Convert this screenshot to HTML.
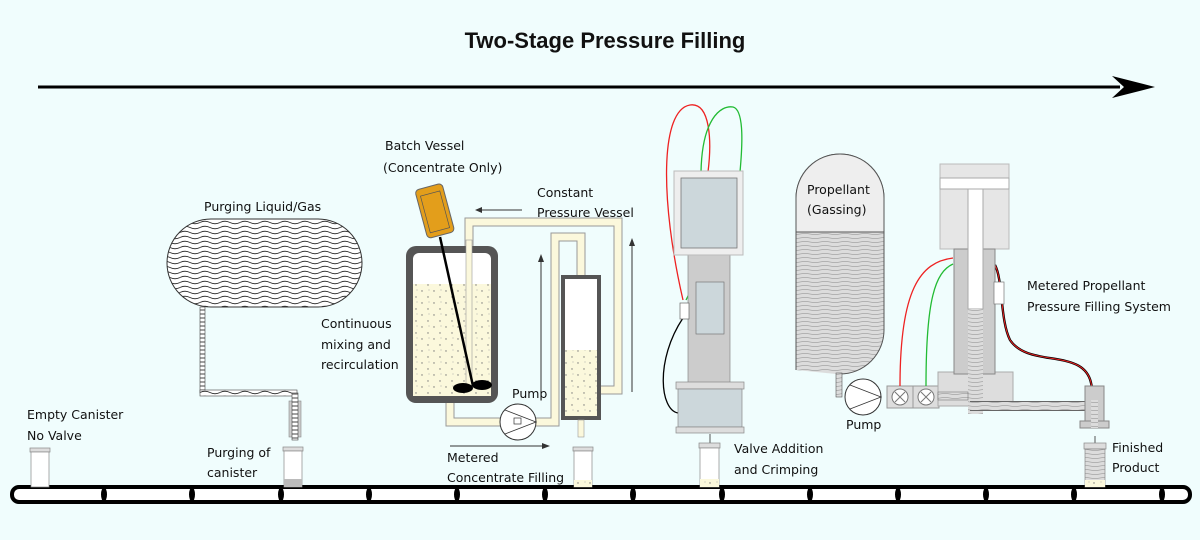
<!DOCTYPE html>
<html><head><style>
html,body{margin:0;padding:0;background:#f0fdfd;}
svg{display:block}
text{font-family:"DejaVu Sans","Liberation Sans",sans-serif;font-size:12.5px;fill:#111}
</style></head><body>
<svg width="1200" height="540" viewBox="0 0 1200 540" xmlns="http://www.w3.org/2000/svg">
<defs>
<pattern id="wave" width="20" height="5" patternUnits="userSpaceOnUse">
<rect width="20" height="5" fill="#fff"/>
<path d="M0 2.5 Q5 0 10 2.5 T20 2.5" fill="none" stroke="#333" stroke-width="0.9"/>
</pattern>
<pattern id="wave2" width="20" height="4" patternUnits="userSpaceOnUse">
<rect width="20" height="4" fill="#dcdcdc"/>
<path d="M0 2 Q5 0.8 10 2 T20 2" fill="none" stroke="#888" stroke-width="0.5"/>
</pattern>
<pattern id="dots" width="12" height="12" patternUnits="userSpaceOnUse">
<rect width="12" height="12" fill="#fbf8dc"/>
<circle cx="2" cy="3" r="0.7" fill="#777"/><circle cx="8" cy="9" r="0.7" fill="#777"/><circle cx="9" cy="2" r="0.5" fill="#999"/>
</pattern>
<pattern id="ladder" width="6" height="4" patternUnits="userSpaceOnUse">
<rect width="6" height="4" fill="#fff"/><line x1="0" y1="2" x2="6" y2="2" stroke="#444" stroke-width="1"/>
</pattern>
</defs>

<text x="605" y="48" text-anchor="middle" style="font-size:22px;font-weight:bold;font-family:'Liberation Sans',sans-serif">Two-Stage Pressure Filling</text>
<line x1="38" y1="87" x2="1120" y2="87" stroke="#000" stroke-width="3"/>
<polygon points="1155,87 1112,76 1124,87 1112,98" fill="#000"/>

<rect x="12" y="487" width="1178" height="15" rx="7" fill="#fff" stroke="#000" stroke-width="4"/>
<g fill="#000">
<ellipse cx="104" cy="494.5" rx="3" ry="7"/><ellipse cx="192" cy="494.5" rx="3" ry="7"/><ellipse cx="281" cy="494.5" rx="3" ry="7"/><ellipse cx="369" cy="494.5" rx="3" ry="7"/><ellipse cx="457" cy="494.5" rx="3" ry="7"/><ellipse cx="545" cy="494.5" rx="3" ry="7"/><ellipse cx="633" cy="494.5" rx="3" ry="7"/><ellipse cx="722" cy="494.5" rx="3" ry="7"/><ellipse cx="810" cy="494.5" rx="3" ry="7"/><ellipse cx="898" cy="494.5" rx="3" ry="7"/><ellipse cx="986" cy="494.5" rx="3" ry="7"/><ellipse cx="1074" cy="494.5" rx="3" ry="7"/><ellipse cx="1162" cy="494.5" rx="3" ry="7"/>
</g>

<text x="27" y="419">Empty Canister</text><text x="27" y="440">No Valve</text>
<rect x="30" y="448" width="20" height="4" fill="#ddd" stroke="#888" stroke-width="0.7"/>
<rect x="31" y="452" width="18" height="35" fill="#fff" stroke="#888" stroke-width="0.7"/>

<text x="204" y="211">Purging Liquid/Gas</text>
<rect x="167" y="219" width="195" height="88" rx="44" fill="url(#wave)" stroke="#333" stroke-width="1"/>
<rect x="200" y="307" width="5" height="86" fill="url(#ladder)" stroke="#444" stroke-width="0.6"/>
<rect x="200" y="390" width="97" height="6" fill="url(#wave)" stroke="#444" stroke-width="0.6"/>
<rect x="289" y="401" width="12" height="36" fill="#ccc" stroke="#888" stroke-width="0.6"/>
<rect x="292" y="393" width="6" height="47" fill="url(#ladder)" stroke="#444" stroke-width="0.6"/>
<text x="207" y="457">Purging of</text><text x="207" y="477">canister</text>
<rect x="283" y="447" width="20" height="4" fill="#ddd" stroke="#888" stroke-width="0.7"/>
<rect x="284" y="451" width="18" height="36" fill="#fff" stroke="#888" stroke-width="0.7"/>
<rect x="284" y="479" width="18" height="8" fill="#bbb"/>

<text x="385" y="150">Batch Vessel</text><text x="383" y="172">(Concentrate Only)</text>
<text x="537" y="197">Constant</text><text x="537" y="217">Pressure Vessel</text>
<line x1="522" y1="210" x2="478" y2="210" stroke="#333"/><polygon points="475,210 482,207 482,213" fill="#333"/>
<text x="321" y="328">Continuous</text><text x="321" y="349">mixing and</text><text x="321" y="369">recirculation</text>
<path d="M469 390 V222 H618 V390 H600" fill="none" stroke="#999" stroke-width="9"/>
<path d="M469 390 V222 H618 V390 H600" fill="none" stroke="#fbf8dc" stroke-width="7"/>
<path d="M450 395 V422 H505 M535 422 H555 V237 H581 V275" fill="none" stroke="#999" stroke-width="9"/>
<path d="M450 395 V422 H505 M535 422 H555 V237 H581 V275" fill="none" stroke="#fbf8dc" stroke-width="7"/>
<rect x="406" y="246" width="92" height="157" rx="10" fill="#555"/>
<rect x="413" y="253" width="78" height="143" rx="6" fill="#fff"/>
<rect x="413" y="284" width="78" height="112" fill="url(#dots)"/>
<rect x="466" y="240" width="6" height="150" fill="#fbf8dc" stroke="#999" stroke-width="0.6"/>
<line x1="440" y1="237" x2="473" y2="386" stroke="#000" stroke-width="2.5"/>
<ellipse cx="463" cy="388" rx="10" ry="5" fill="#000"/><ellipse cx="482" cy="385" rx="10" ry="5" fill="#000"/>
<g transform="rotate(-15 434 208)"><rect x="420" y="186" width="28" height="50" rx="4" fill="#e39e1b" stroke="#666"/><rect x="424" y="193" width="20" height="38" fill="none" stroke="#555" stroke-width="0.7"/></g>
<rect x="561" y="275" width="40" height="145" fill="#555"/>
<rect x="565" y="279" width="32" height="137" fill="#fff"/>
<rect x="565" y="350" width="32" height="66" fill="url(#dots)"/>
<rect x="578" y="420" width="6" height="17" fill="#fbf8dc" stroke="#999" stroke-width="0.6"/>
<line x1="541" y1="392" x2="541" y2="258" stroke="#333"/><polygon points="541,254 538,262 544,262" fill="#333"/>
<line x1="632" y1="392" x2="632" y2="242" stroke="#333"/><polygon points="632,238 629,246 635,246" fill="#333"/>
<circle cx="518" cy="422" r="18" fill="#fff" stroke="#333"/>
<path d="M505 410 L536 422 L505 434" fill="none" stroke="#333" stroke-width="0.8"/>
<rect x="514" y="418" width="7" height="6" fill="#fff" stroke="#333" stroke-width="0.7"/>
<text x="512" y="398">Pump</text>
<line x1="450" y1="446" x2="545" y2="446" stroke="#333"/><polygon points="550,446 542,443 542,449" fill="#333"/>
<text x="447" y="462">Metered</text><text x="447" y="482">Concentrate Filling</text>
<rect x="573" y="447" width="20" height="4" fill="#ddd" stroke="#888" stroke-width="0.7"/>
<rect x="574" y="451" width="18" height="36" fill="#fff" stroke="#888" stroke-width="0.7"/>
<rect x="574" y="480" width="18" height="7" fill="url(#dots)"/>

<path d="M683 300 C660 200 660 110 690 105 C710 102 712 140 708 172" fill="none" stroke="#e22" stroke-width="1.3"/>
<path d="M686 300 C690 292 692 290 692 290 M701 172 C702 120 720 105 733 107 C745 110 742 150 740 172" fill="none" stroke="#2b3" stroke-width="1.3"/>
<path d="M683 318 C655 360 660 410 678 413" fill="none" stroke="#000" stroke-width="1.3"/>
<rect x="688" y="254" width="42" height="130" fill="#ccc" stroke="#888" stroke-width="0.7"/>
<rect x="696" y="282" width="28" height="52" fill="#ccd7db" stroke="#777" stroke-width="0.7"/>
<rect x="674" y="171" width="69" height="84" fill="#eee" stroke="#bbb"/>
<rect x="681" y="178" width="56" height="70" fill="#ccd7db" stroke="#777" stroke-width="0.8"/>
<rect x="680" y="303" width="9" height="16" fill="#fff" stroke="#666" stroke-width="0.7"/>
<rect x="676" y="382" width="68" height="7" fill="#ddd" stroke="#888" stroke-width="0.7"/>
<rect x="678" y="389" width="64" height="38" fill="#ccd7db" stroke="#888" stroke-width="0.7"/>
<rect x="676" y="427" width="68" height="6" fill="#ddd" stroke="#888" stroke-width="0.7"/>
<line x1="710" y1="434" x2="710" y2="443" stroke="#555"/>
<rect x="699" y="443" width="21" height="5" fill="#ddd" stroke="#888" stroke-width="0.7"/>
<rect x="700" y="448" width="19" height="39" fill="#fff" stroke="#888" stroke-width="0.7"/>
<rect x="700" y="479" width="19" height="8" fill="url(#dots)"/>
<text x="734" y="453">Valve Addition</text><text x="734" y="474">and Crimping</text>

<path d="M796 370 V198 A44 44 0 0 1 884 198 V330 A44 44 0 0 1 840 374 H836" fill="url(#wave2)" stroke="#555"/>
<path d="M796 232 V198 A44 44 0 0 1 884 198 V232 Z" fill="#eee" stroke="#555"/>
<text x="807" y="194">Propellant</text><text x="807" y="214">(Gassing)</text>
<rect x="836" y="373" width="6" height="24" fill="url(#wave2)" stroke="#555" stroke-width="0.6"/>
<circle cx="863" cy="397" r="18" fill="#fff" stroke="#333"/>
<path d="M850 385 L881 397 L850 409" fill="none" stroke="#333" stroke-width="0.8"/>
<text x="846" y="429">Pump</text>
<rect x="887" y="386" width="26" height="22" fill="#ddd" stroke="#999"/><rect x="913" y="386" width="26" height="22" fill="#ddd" stroke="#999"/>
<circle cx="900" cy="397" r="8" fill="#fff" stroke="#777"/><circle cx="926" cy="397" r="8" fill="#fff" stroke="#777"/>
<path d="M895 392l10 10M905 392l-10 10M921 392l10 10M931 392l-10 10" stroke="#777"/>
<path d="M900 386 C900 290 920 262 953 258" fill="none" stroke="#e22" stroke-width="1.3"/>
<path d="M926 386 C926 300 935 272 953 264" fill="none" stroke="#2b3" stroke-width="1.3"/>
<path d="M995 265 C1003 280 1000 320 1010 340 C1030 370 1090 345 1092 390" fill="none" stroke="#000" stroke-width="2.4"/>
<path d="M995 265 C1003 280 1000 320 1010 340 C1030 370 1090 345 1092 390" fill="none" stroke="#e22" stroke-width="1"/>
<rect x="938" y="372" width="75" height="34" fill="#ddd" stroke="#aaa"/>
<rect x="940" y="164" width="69" height="85" fill="#e6e6e6" stroke="#bbb"/>
<rect x="940" y="178" width="69" height="11" fill="#fff" stroke="#aaa"/>
<rect x="954" y="249" width="41" height="125" fill="#ccc" stroke="#888"/>
<rect x="968" y="189" width="15" height="120" fill="#fff" stroke="#aaa"/>
<rect x="968" y="309" width="15" height="105" fill="url(#wave2)"/>
<rect x="938" y="392" width="30" height="8" fill="url(#wave2)" stroke="#666" stroke-width="0.5"/>
<path d="M970 406 H1090" stroke="#666" stroke-width="10"/><path d="M970 406 H1090" stroke="#ddd" stroke-width="8"/>
<rect x="970" y="402" width="120" height="8" fill="url(#wave2)"/>
<rect x="994" y="282" width="10" height="22" fill="#fff" stroke="#777" stroke-width="0.7"/>
<rect x="1085" y="386" width="19" height="36" fill="#ccc" stroke="#888"/>
<rect x="1080" y="421" width="29" height="7" fill="#ccc" stroke="#888"/>
<rect x="1091" y="400" width="7" height="28" fill="url(#wave2)"/>
<line x1="1095" y1="436" x2="1095" y2="446" stroke="#555"/>
<rect x="1084" y="443" width="22" height="6" fill="#ddd" stroke="#888" stroke-width="0.7"/>
<rect x="1085" y="449" width="20" height="38" fill="url(#wave2)" stroke="#888" stroke-width="0.7"/>
<rect x="1085" y="480" width="20" height="7" fill="url(#dots)"/>
<text x="1027" y="290">Metered Propellant</text><text x="1027" y="311">Pressure Filling System</text>
<text x="1112" y="452">Finished</text><text x="1112" y="472">Product</text>
</svg>
</body></html>
